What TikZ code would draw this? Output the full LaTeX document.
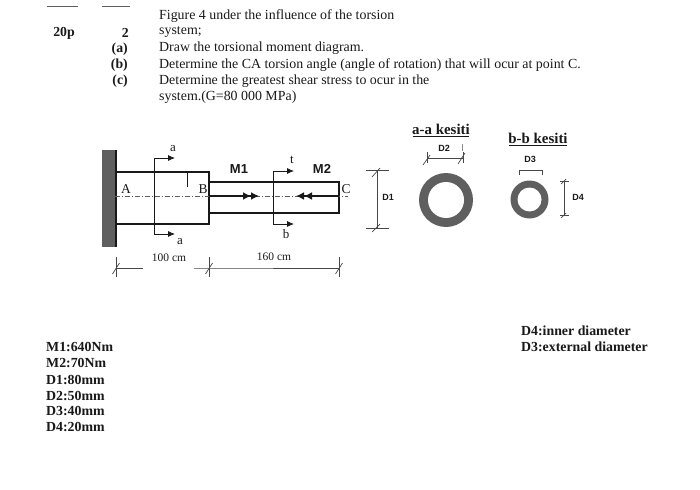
\documentclass[tikz,border=0pt]{standalone}
\usepackage{fontspec}
\setmainfont{Liberation Serif}
\newfontfamily\sansf{Liberation Sans}
\usetikzlibrary{arrows.meta,patterns}
\definecolor{ink}{RGB}{25,25,25}
\definecolor{ringgray}{RGB}{95,95,95}
\tikzset{x=1pt,y=-1pt,
  txt/.style={font=\fontsize{13.9}{15}\selectfont,text=ink,anchor=west,inner sep=0pt},
  btxt/.style={font=\bfseries\fontsize{13.85}{15}\selectfont,text=ink,anchor=west,inner sep=0pt},
  qnum/.style={font=\bfseries\fontsize{13.8}{15}\selectfont,text=ink,anchor=east,inner sep=0pt},
  ltr/.style={font=\fontsize{13.5}{15}\selectfont,text=ink,inner sep=0pt},
  cutl/.style={font=\fontsize{13}{15}\selectfont,text=ink,inner sep=0pt},
  smalll/.style={font=\fontsize{11.500}{13}\selectfont,text=ink,inner sep=0pt},
  mlab/.style={font=\sansf\bfseries\fontsize{13}{15}\selectfont,text=ink,inner sep=0pt},
  dlab/.style={font=\sansf\bfseries\fontsize{9}{11}\selectfont,text=ink,inner sep=0pt},
  head/.style={font=\bfseries\fontsize{14.9}{16}\selectfont,text=ink,inner sep=1pt},
  beam/.style={draw=ink,line width=1.5pt},
  cut/.style={draw=ink,line width=.8pt,-{Latex[length=7pt,width=6pt]}},
  dimln/.style={draw=ink!80,line width=.7pt},
  axisln/.style={draw=ink!70,line width=.7pt,dash pattern=on 5pt off 2pt on 1pt off 2pt},
  moment/.style={draw=ink,line width=1.8pt,-{Latex[length=8pt,width=8pt]Latex[length=8pt,width=8pt]}},
  ring/.style={draw=ringgray,fill=white}}
\begin{document}
\begin{tikzpicture}
\useasboundingbox (0,0) rectangle (700,489);
% header rules
\draw[ink!70,line width=1.1pt] (47,6.5) -- (78,6.5);
\draw[ink!70,line width=1.1pt] (102,6.5) -- (130,6.5);
\node[qnum] (q20) at (75,33) {20p};
\node[qnum] (q2) at (129,33) {2};
\node[qnum] (qa) at (128,49) {(a)};
\node[qnum] (qb) at (128,65.500) {(b)};
\node[qnum] (qc) at (128,81.500) {(c)};
\node[txt] (t1) at (159,16.500) {Figure 4 under the influence of the torsion};
\node[txt] (t2) at (159,32.500) {system;};
\node[txt] (t3) at (159,48.500) {Draw the torsional moment diagram.};
\node[txt] (t4) at (159,65) {Determine the CA torsion angle (angle of rotation) that will ocur at point C.};
\node[txt] (t5) at (159,81) {Determine the greatest shear stress to ocur in the};
\node[txt] (t6) at (159,97) {system.(G=80 000 MPa)};
% wall
\fill[ringgray] (102,150) rectangle (115,247);
\draw[ink,line width=2pt] (116,150) -- (116,247);
% shaft
\draw[beam] (116,172) rectangle (209,224);
\draw[beam] (209,182) rectangle (339,213);
\draw[axisln] (105,196) -- (348,196);
\draw[ink,line width=.6pt] (187,172) -- (187,187);
\coordinate (m1s) at (209,196); \coordinate (m1e) at (259,196);
\coordinate (m2s) at (339,196); \coordinate (m2e) at (296,196);
\draw[moment] (m1s) -- (m1e);
\draw[moment] (m2s) -- (m2e);
\node[ltr] (A) at (126,189) {A};
\node[ltr] (B) at (203,189) {B};
\node[ltr] (C) at (346,189) {C};
\node[mlab] (M1) at (239,169) {M1};
\node[mlab] (M2) at (322,169) {M2};
% cuts
\coordinate (a1) at (154,158); \coordinate (a2) at (154,234);
\coordinate (a1e) at (175,158); \coordinate (a2e) at (175,234);
\draw[ink,line width=.8pt] (a1) -- (a2);
\draw[cut] (a1) -- (a1e);
\draw[cut] (a2) -- (a2e);
\coordinate (b1) at (273,171); \coordinate (b2) at (273,224);
\coordinate (b1e) at (294,171); \coordinate (b2e) at (294,224);
\draw[ink,line width=.8pt] (b1) -- (b2);
\draw[cut] (b1) -- (b1e);
\draw[cut] (b2) -- (b2e);
\node[cutl] (la1) at (173,149) {a};
\node[cutl] (la2) at (180,242) {a};
\node[cutl] (lb1) at (292,160) {t};
\node[cutl] (lb2) at (286,234) {b};
% dimensions
\coordinate (d0) at (116,268); \coordinate (d1) at (209,268); \coordinate (d2) at (339,268);
\draw[dimln] (d0) -- (143,268) (194,268) -- (d1) -- (d2);
\foreach \p in {d0,d1,d2}{
  \draw[dimln] (\p) ++(0,-11) -- ++(0,20);
  \draw[dimln] (\p) ++(3.500,-5) -- ++(-7,11);
}
\node[smalll] (l100) at (169,258) {100 cm};
\node[smalll] (l160) at (274,257) {160 cm};
% section a-a
\node[head] (ha) at (441,129) {a-a kesiti};
\draw[ink,line width=.9pt] (412.500,136.500) -- (469,136.500);
\node[head] (hb) at (538,138) {b-b kesiti};
\draw[ink,line width=.9pt] (509,145) -- (567,145);
\fill[ringgray] (446,200) circle (27);
\fill[white] (446,200) circle (18);
\fill[ringgray] (529.500,199.500) circle (19);
\fill[white] (529.500,199.500) circle (12);
% D1
\draw[dimln] (366,170) -- (389,170) (366,228) -- (389,228) (377,170) -- (377,228);
\draw[dimln] (372,177) -- (380,168) (372,232) -- (380,224);
\node[dlab] (D1) at (388,197) {D1};
% D2
\draw[dimln] (427,158) -- (463,158) (427,152) -- (427,163) (463,152) -- (463,163);
\draw[dimln] (423,165) -- (430,155) (458,164) -- (465,153);
\draw[ink!50,line width=.5pt] (462.500,144) -- (462.500,151);
\node[dlab] (D2) at (444,148) {D2};
% D3
\draw[dimln] (519,170) -- (542,170) (519,170) -- (519,175) (542,170) -- (542,175);
\node[dlab] (D3) at (530,159) {D3};
% D4
\draw[dimln] (560,181) -- (569,181) (560,215) -- (569,215) (564,181) -- (564,215);
\draw[dimln] (561,184) -- (566,179) (561,218) -- (566,213);
\node[dlab] (D4) at (578,197) {D4};
% lists
\node[btxt] (r1) at (521,331) {D4:inner diameter};
\node[btxt] (r2) at (521,347) {D3:external diameter};
\node[btxt] (l1) at (46,347) {M1:640Nm};
\node[btxt] (l2) at (46,363) {M2:70Nm};
\node[btxt] (l3) at (46,379.500) {D1:80mm};
\node[btxt] (l4) at (46,395.500) {D2:50mm};
\node[btxt] (l5) at (46,411) {D3:40mm};
\node[btxt] (l6) at (46,427) {D4:20mm};
\end{tikzpicture}
\end{document}
